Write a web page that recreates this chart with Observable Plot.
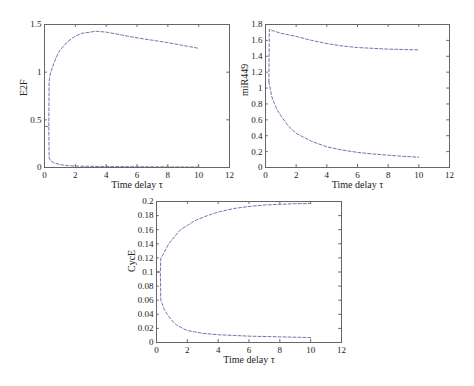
<!DOCTYPE html>
<html>
<head>
<meta charset="utf-8">
<script src="https://cdn.jsdelivr.net/npm/d3@7"></script>
<script src="https://cdn.jsdelivr.net/npm/@observablehq/plot@0.6"></script>
<style>
  html, body { margin: 0; padding: 0; background: #fff; }
  #wrap { position: relative; width: 474px; height: 386px; overflow: hidden; }
  .panel { position: absolute; }
</style>
</head>
<body>
<div id="wrap">
  <div class="panel" id="p1" style="left:0px; top:0px;"></div>
  <div class="panel" id="p2" style="left:222px; top:0px;"></div>
  <div class="panel" id="p3" style="left:110px; top:180px;"></div>
</div>
<script>
// ---- data ----
const xTicks = [0, 2, 4, 6, 8, 10, 12];
const xLabel = "Time delay τ";

// E2F
const e2fUpperTau = [0, 0.28, 0.3, 0.35, 0.45, 0.6, 0.8, 1, 1.5, 2, 2.5, 3, 3.3, 4, 5, 6, 7, 8, 9, 10];
const e2fUpper    = [0.43, 0.43, 0.9, 0.96, 1.02, 1.09, 1.17, 1.23, 1.32, 1.38, 1.41, 1.42, 1.43, 1.42, 1.39, 1.36, 1.335, 1.31, 1.28, 1.25];
const e2fLowerTau = [0, 0.28, 0.3, 0.4, 0.6, 1, 1.5, 2, 3, 4, 6, 8, 10];
const e2fLower    = [0.43, 0.43, 0.1, 0.07, 0.05, 0.03, 0.02, 0.015, 0.012, 0.01, 0.008, 0.006, 0.005];
const e2fYTicks = [0, 0.5, 1, 1.5];

// miR449
const mirUpperTau = [0.22, 0.25, 0.5, 1, 1.5, 2, 3, 4, 5, 6, 7, 8, 9, 10];
const mirUpper    = [1.08, 1.74, 1.72, 1.69, 1.67, 1.65, 1.6, 1.56, 1.53, 1.51, 1.5, 1.49, 1.485, 1.48];
const mirLowerTau = [0.22, 0.3, 0.4, 0.5, 0.75, 1, 1.5, 2, 3, 4, 5, 6, 7, 8, 9, 10];
const mirLower    = [1.08, 1.0, 0.9, 0.84, 0.73, 0.65, 0.52, 0.43, 0.33, 0.26, 0.22, 0.19, 0.17, 0.155, 0.14, 0.13];
const mirYTicks = [0, 0.2, 0.4, 0.6, 0.8, 1, 1.2, 1.4, 1.6, 1.8];

// CycE
const cycUpperTau = [0, 0.25, 0.28, 0.37, 0.5, 0.8, 1.2, 1.56, 2, 2.5, 3.3, 4, 5, 6, 7, 8, 9, 10];
const cycUpper    = [0.1, 0.1, 0.12, 0.123, 0.128, 0.14, 0.151, 0.16, 0.166, 0.173, 0.18, 0.185, 0.19, 0.193, 0.195, 0.196, 0.197, 0.197];
const cycLowerTau = [0, 0.25, 0.28, 0.37, 0.5, 0.7, 1, 1.3, 1.7, 2, 3, 4, 5, 6, 8, 10];
const cycLower    = [0.1, 0.1, 0.06, 0.055, 0.047, 0.04, 0.031, 0.025, 0.02, 0.017, 0.013, 0.011, 0.01, 0.009, 0.008, 0.007];
const cycYTicks = [0, 0.02, 0.04, 0.06, 0.08, 0.1, 0.12, 0.14, 0.16, 0.18, 0.2];

// ---- drawing ----
const lineColor = "#7a70b0";
const frameColor = "#666";
const font = "'Liberation Serif', 'DejaVu Serif', serif";

function pts(tau, vals) { return tau.map((t, i) => ({t, v: vals[i]})); }

function panel(el, cfg) {
  const [y0, y1] = cfg.yDomain;
  const ty = (y1 - y0) * 0.02;
  const tx = 12 * 0.015;
  const chart = Plot.plot({
    width: cfg.width,
    height: cfg.height,
    marginLeft: cfg.ml, marginRight: cfg.mr, marginTop: cfg.mt, marginBottom: cfg.mb,
    style: {fontFamily: font, fontSize: "9px", color: "#222", background: "transparent"},
    x: {domain: [0, 12]},
    y: {domain: cfg.yDomain},
    marks: [
      Plot.axisX(xTicks, {tickSize: 0, tickPadding: 4, label: null, tickFormat: d => String(d), fill: "#222"}),
      Plot.axisY(cfg.yTicks, {tickSize: 0, tickPadding: 3, label: null, tickFormat: d => String(d), fill: "#222"}),
      Plot.ruleX(xTicks, {y1: y0, y2: y0 + ty, stroke: frameColor}),
      Plot.ruleX(xTicks, {y1: y1, y2: y1 - ty, stroke: frameColor}),
      Plot.ruleY(cfg.yTicks, {x1: 0, x2: tx, stroke: frameColor}),
      Plot.ruleY(cfg.yTicks, {x1: 12, x2: 12 - tx, stroke: frameColor}),
      Plot.line(pts(cfg.upperTau, cfg.upper), {x: "t", y: "v", stroke: lineColor, strokeWidth: 1, strokeDasharray: "3,2", curve: "linear"}),
      Plot.line(pts(cfg.lowerTau, cfg.lower), {x: "t", y: "v", stroke: lineColor, strokeWidth: 1, strokeDasharray: "3,2", curve: "linear"}),
      Plot.frame({stroke: frameColor, strokeWidth: 1}),
      Plot.text([xLabel], {frameAnchor: "bottom", dy: 17, fontSize: 10, fill: "#222", lineAnchor: "middle"}),
      Plot.text([cfg.yLabel], {frameAnchor: "left", dx: -cfg.yLabelOffset, rotate: -90, fontSize: 10, fill: "#222"})
    ]
  });
  chart.style.background = "transparent";
  document.getElementById(el).appendChild(chart);
}

panel("p1", {
  width: 240, height: 192, ml: 44, mr: 11, mt: 24, mb: 25,
  yDomain: [0, 1.5], yTicks: e2fYTicks, yLabel: "E2F", yLabelOffset: 21,
  upperTau: e2fUpperTau, upper: e2fUpper, lowerTau: e2fLowerTau, lower: e2fLower
});
panel("p2", {
  width: 238, height: 192, ml: 43, mr: 11, mt: 24, mb: 25,
  yDomain: [0, 1.8], yTicks: mirYTicks, yLabel: "miR449", yLabelOffset: 21,
  upperTau: mirUpperTau, upper: mirUpper, lowerTau: mirLowerTau, lower: mirLower
});
panel("p3", {
  width: 246, height: 187, ml: 46, mr: 15, mt: 21, mb: 25,
  yDomain: [0, 0.2], yTicks: cycYTicks, yLabel: "CycE", yLabelOffset: 25,
  upperTau: cycUpperTau, upper: cycUpper, lowerTau: cycLowerTau, lower: cycLower
});
</script>
</body>
</html>
